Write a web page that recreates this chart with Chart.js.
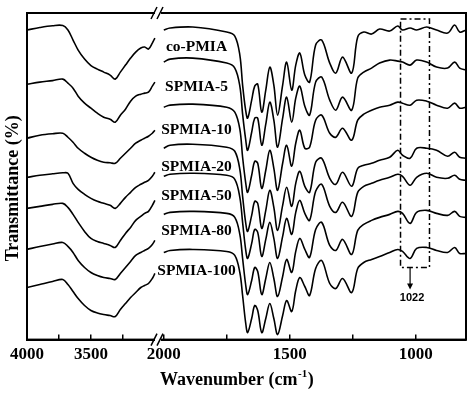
<!DOCTYPE html>
<html>
<head>
<meta charset="utf-8">
<script src="https://cdn.jsdelivr.net/npm/chart.js@4.4.1/dist/chart.umd.min.js"></script>
<style>
  html, body { margin: 0; padding: 0; background: #fff; }
  #wrap { width: 474px; height: 395px; }
</style>
</head>
<body>
<div id="wrap"><canvas id="ftir" width="474" height="395"></canvas></div>
<script>
// samples, top to bottom
const samples = ['co-PMIA', 'SPMIA-5', 'SPMIA-10', 'SPMIA-20', 'SPMIA-50', 'SPMIA-80', 'SPMIA-100'];

// wavenumbers (cm-1), left part of the broken axis and right part
const waveLeft = [4000, 3900, 3800, 3720, 3680, 3640, 3600, 3550, 3500, 3450, 3400,
  3350, 3310, 3270, 3230, 3190, 3150, 3110, 3080, 3050, 3020, 3000];
const waveRight = [2000, 1975, 1885, 1750, 1718, 1698, 1687, 1675, 1667, 1651,
  1639, 1627, 1611, 1595, 1579, 1563, 1548, 1528, 1512, 1492,
  1476, 1460, 1440, 1421, 1397, 1373, 1341, 1317, 1290, 1254,
  1230, 1206, 1175, 1143, 1103, 1071, 1052, 1022, 996, 956,
  917, 873, 845, 825, 800];

// transmittance, stacked with offsets (arbitrary units)
const leftCoPMIA = [309, 311.5, 313.3, 313.5, 309, 299, 289, 280, 273.5, 270, 267, 264, 260, 267, 274, 281, 287, 291, 292, 290, 296, 301];
const leftS5 = [255, 257, 258.5, 260, 256, 251, 243, 236, 231, 226, 222, 220, 217, 224, 230, 238, 243, 245, 246, 247, 253, 257];
const leftS10 = [201, 204, 205.5, 206, 202, 197, 191, 186, 182, 179, 177, 176.5, 176, 181, 186, 191, 196, 199, 201, 203, 206, 209];
const leftS20 = [162, 164, 165.5, 166.5, 166, 156, 150, 145, 141, 138, 136, 134, 131, 136, 142, 147, 152, 155, 157, 159, 163, 167];
const leftS50 = [131, 133, 135, 136, 132, 125, 117, 108, 101, 98, 96, 94, 92, 99, 106, 112, 119, 123, 126, 128, 134, 139];
const leftS80 = [90, 93, 95.5, 97, 93, 87, 79, 72, 67, 64, 62, 61, 60, 66, 72, 78, 84, 87, 89, 91, 95, 99];
const leftS100 = [52, 55, 58, 60, 55, 48, 41, 34, 29, 26.5, 25, 24, 23, 30, 36, 42, 47, 52, 54, 56, 61, 66];

const rightCoPMIA = [309, 311, 312, 307, 303, 284, 254, 229, 221, 239, 253, 255, 227, 249, 272, 254, 224, 254, 277, 249,
  274, 286, 264, 257, 294, 299, 276, 266, 282, 266, 302, 307, 305, 310, 308, 313, 309, 311, 309, 312, 309, 306, 314, 307, 309];
const rightS5 = [277, 280, 281, 276, 271, 253, 225, 200, 189, 207, 221, 221, 194, 215, 237, 219, 192, 221, 242, 217,
  241, 253, 233, 224, 257, 262, 239, 229, 242, 229, 261, 267, 271, 276, 279, 278, 277, 274, 279, 277, 272, 271, 277, 271, 269];
const rightS10 = [232, 234, 235, 232, 227, 210, 182, 157, 147, 164, 178, 176, 151, 169, 189, 171, 149, 176, 194, 173,
  196, 209, 191, 192, 219, 224, 206, 202, 211, 199, 219, 225, 229, 232, 234, 237, 236, 234, 239, 238, 234, 231, 236, 231, 232];
const rightS20 = [191, 194, 195, 192, 188, 170, 143, 117, 108, 124, 138, 136, 111, 129, 149, 132, 109, 134, 152, 133,
  156, 168, 153, 147, 177, 181, 161, 155, 167, 153, 171, 174, 176, 179, 182, 189, 184, 181, 191, 191, 189, 183, 187, 182, 181];
const rightS50 = [163, 165, 166, 164, 160, 142, 117, 90, 81, 96, 110, 107, 83, 100, 117, 101, 81, 103, 121, 105,
  127, 139, 126, 119, 148, 155, 133, 127, 137, 123, 147, 153, 156, 159, 162, 165, 163, 154, 162, 166, 162, 161, 164, 160, 159];
const rightS80 = [125, 127, 128, 126, 122, 105, 81, 55, 45, 59, 72, 68, 45, 61, 77, 61, 43, 63, 80, 67,
  88, 101, 90, 82, 110, 117, 94, 89, 100, 85, 109, 115, 119, 122, 125, 128, 126, 116, 127, 129, 126, 124, 128, 123, 122];
const rightS100 = [87, 89, 90, 88, 84, 67, 44, 17, 7, 21, 34, 29, 7, 21, 36, 21, 5, 24, 39, 28,
  49, 62, 53, 44, 71, 79, 56, 51, 61, 47, 71, 77, 80, 83, 87, 90, 88, 81, 91, 92, 89, 87, 92, 86, 86];

const leftSeries = [leftCoPMIA, leftS5, leftS10, leftS20, leftS50, leftS80, leftS100];
const rightSeries = [rightCoPMIA, rightS5, rightS10, rightS20, rightS50, rightS80, rightS100];

// where the sample names sit
const labelWave = 1870;
const labelLevels = [292, 252, 209, 172, 143, 108, 68];

// axis ticks
const ticksLeft = [4000, 3750, 3500, 3250];
const ticksRight = [2000, 1750, 1500, 1250, 1000];
const labelledTicks = [4000, 3500, 2000, 1500, 1000];

// 1022 cm-1 highlight
const markWave = 1022;
const boxWave = [1060, 945];
const boxLevels = [320, 72];
const arrowEnd = 50;
const markTextLevel = 42;

const serif = '"Liberation Serif", "Times New Roman", serif';

const datasets = [];
samples.forEach((name, i) => {
  datasets.push({
    label: name,
    data: waveLeft.map((w, j) => ({x: w, y: leftSeries[i][j]})),
    xAxisID: 'xL'
  });
  datasets.push({
    label: name,
    data: waveRight.map((w, j) => ({x: w, y: rightSeries[i][j]})),
    xAxisID: 'xR'
  });
});

function axisTicks(list) {
  return function (scale) {
    scale.ticks = list.map(v => ({value: v}));
  };
}

function xAxis(min, max, weight, list) {
  return {
    type: 'linear',
    position: 'bottom',
    stack: 'wn',
    stackWeight: weight,
    reverse: true,
    min: min,
    max: max,
    afterBuildTicks: axisTicks(list),
    border: {display: true, color: '#000', width: 2},
    grid: {display: true, drawOnChartArea: false, drawTicks: true, tickLength: -5, color: '#000', lineWidth: 1.5},
    ticks: {
      autoSkip: false,
      maxRotation: 0,
      padding: 10,
      color: '#000',
      font: {family: serif, size: 17, weight: 'bold'},
      callback: v => labelledTicks.includes(v) ? String(v) : ''
    }
  };
}

const decor = {
  id: 'decor',
  afterDatasetsDraw(chart) {
    const {ctx, chartArea: a, scales} = chart;
    const xL = scales.xL, xR = scales.xR, y = scales.y;
    ctx.save();

    // frame
    ctx.strokeStyle = '#000';
    ctx.lineWidth = 2;
    ctx.strokeRect(a.left, a.top, a.right - a.left, a.bottom - a.top);

    // axis break marks
    const bx = xL.right;
    [a.top, a.bottom].forEach(yy => {
      ctx.fillStyle = '#fff';
      ctx.fillRect(bx - 5, yy - 2, 6, 4);
      ctx.beginPath();
      ctx.moveTo(bx - 9, yy + 6); ctx.lineTo(bx - 3, yy - 6);
      ctx.moveTo(bx - 3, yy + 6); ctx.lineTo(bx + 3, yy - 6);
      ctx.lineWidth = 1.5;
      ctx.stroke();
    });

    // dash-dot box round the 1022 band
    const x1 = xR.getPixelForValue(boxWave[0]);
    const x2 = xR.getPixelForValue(boxWave[1]);
    const y1 = y.getPixelForValue(boxLevels[0]);
    const y2 = y.getPixelForValue(boxLevels[1]);
    ctx.setLineDash([6, 3, 2, 3]);
    ctx.lineWidth = 1.5;
    ctx.strokeRect(x1, y1, x2 - x1, y2 - y1);
    ctx.setLineDash([]);

    // arrow + label
    const mx = xR.getPixelForValue(markWave);
    const ay = y.getPixelForValue(arrowEnd);
    ctx.beginPath();
    ctx.moveTo(mx, y2);
    ctx.lineTo(mx, ay - 4);
    ctx.lineWidth = 1.2;
    ctx.stroke();
    ctx.beginPath();
    ctx.moveTo(mx - 3, ay - 6);
    ctx.lineTo(mx + 3, ay - 6);
    ctx.lineTo(mx, ay);
    ctx.closePath();
    ctx.fillStyle = '#000';
    ctx.fill();
    ctx.font = 'bold 11px "Liberation Sans", Arial, sans-serif';
    ctx.textAlign = 'center';
    ctx.textBaseline = 'middle';
    ctx.fillText(String(markWave), mx + 2, y.getPixelForValue(markTextLevel));

    // sample names
    ctx.font = 'bold 15.5px ' + serif;
    samples.forEach((name, i) => {
      ctx.fillText(name, xR.getPixelForValue(labelWave), y.getPixelForValue(labelLevels[i]));
    });

    // y title
    ctx.save();
    ctx.translate(13, (a.top + a.bottom) / 2 + 12);
    ctx.rotate(-Math.PI / 2);
    ctx.font = 'bold 18px ' + serif;
    ctx.textAlign = 'center';
    ctx.textBaseline = 'middle';
    ctx.fillText('Transmittance (%)', 0, 0);
    ctx.restore();

    // x title with superscript
    ctx.textAlign = 'left';
    ctx.textBaseline = 'alphabetic';
    const tx = xR.left;
    const ty = a.bottom + 45;
    ctx.font = 'bold 18px ' + serif;
    const part1 = 'Wavenumber (cm';
    ctx.fillText(part1, tx, ty);
    let w = ctx.measureText(part1).width;
    ctx.font = 'bold 11px ' + serif;
    ctx.fillText('-1', tx + w + 0.5, ty - 8);
    w += ctx.measureText('-1').width + 1;
    ctx.font = 'bold 18px ' + serif;
    ctx.fillText(')', tx + w, ty);

    ctx.restore();
  }
};

new Chart(document.getElementById('ftir'), {
  type: 'line',
  data: {datasets: datasets},
  options: {
    responsive: false,
    animation: false,
    layout: {padding: {left: 27, top: 13, right: 8, bottom: 20}},
    elements: {
      line: {borderColor: '#000', borderWidth: 1.6, tension: 0.35, fill: false},
      point: {radius: 0}
    },
    plugins: {legend: {display: false}, tooltip: {enabled: false}},
    scales: {
      xL: xAxis(2960, 4000, 133, ticksLeft),
      xR: xAxis(800, 2015, 306, ticksRight),
      y: {
        type: 'linear',
        min: 0,
        max: 326,
        display: true,
        ticks: {display: false},
        grid: {display: false, drawTicks: false},
        border: {display: false},
        title: {display: false}
      }
    }
  },
  plugins: [decor]
});
</script>
</body>
</html>
